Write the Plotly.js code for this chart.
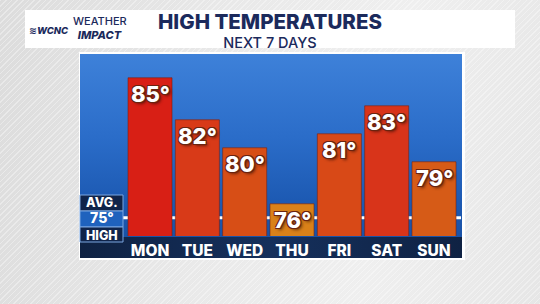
<!DOCTYPE html>
<html>
<head>
<meta charset="utf-8">
<script src="https://cdn.plot.ly/plotly-3.0.1.min.js"></script>
<style>
  html, body { margin:0; padding:0; width:540px; height:304px; overflow:hidden; }
  body {
    background:
      repeating-linear-gradient(135deg, rgba(255,255,255,0.35) 0 1px, rgba(255,255,255,0) 1px 4px),
      linear-gradient(100deg, #dcdcdc 0%, #e9e9e9 40%, #efefef 70%, #e6e6e6 100%);
    font-family: Inter, sans-serif;
  }
  .abs { position:absolute; }
  #header { left:25px; top:10px; width:490px; height:38px; background:#ffffff; }
  #frame { left:79px; top:52px; width:386px; height:208px; background:#ffffff; }
  #sky { left:80px; top:54px; width:382px; height:183px;
         background: linear-gradient(180deg, #3e81d9 0%, #2b6dc9 45%, #1d5ab3 80%, #1a52a6 100%); }
  #band { left:80px; top:237px; width:382px; height:21px;
          background: linear-gradient(90deg, #0f2243 0%, #15305c 50%, #0f2243 100%); }
  #chart { position:absolute; left:0; top:0; width:540px; height:304px; }
</style>
</head>
<body>
<div id="header" class="abs"></div>
<div id="frame" class="abs"></div>
<div id="sky" class="abs"></div>
<div id="band" class="abs"></div>
<div id="chart"></div>
<script>
// ---- data ----
const days = ["MON", "TUE", "WED", "THU", "FRI", "SAT", "SUN"];
const highs = [85, 82, 80, 76, 81, 83, 79];
const avgHigh = 75;
const barColors = ["#d81f15", "#d83a18", "#d74e16", "#d98119", "#d84917", "#d8341a", "#d65b17"];
const titleText = "HIGH TEMPERATURES";
const subtitleText = "NEXT 7 DAYS";

// ---- layout helpers (pixel -> paper) ----
const L = 80, R = 461, T = 53, B = 236;
const W = R - L, H = B - T;
const px = p => (p - L) / W;
const py = p => (B - p) / H;

const navy = "#1b2a5c";
const FAM = "Inter, 'DejaVu Sans', sans-serif";
const boldFont = (size, color) => ({family: FAM, size: size, color: color, weight: 800});

const trace = {
  type: "bar",
  x: days,
  y: highs,
  width: 0.93,
  marker: {color: barColors, line: {color: "rgba(120,30,10,0.55)", width: 1}},
  hoverinfo: "skip"
};

const annotations = [];
// value labels
days.forEach((d, i) => {
  annotations.push({
    x: d, y: highs[i], xref: "x", yref: "y",
    text: highs[i] + "°", showarrow: false,
    yanchor: "top", xanchor: "center", yshift: -1,
    font: Object.assign(boldFont(22, "#ffffff"), {
      shadow: "1px 1px 0 #6a2410, -1px -1px 0 #6a2410, 1px -1px 0 #6a2410, -1px 1px 0 #6a2410, 2px 2px 3px rgba(40,10,0,0.6)"
    })
  });
});
// header: title + subtitle in one block
annotations.push({xref: "paper", yref: "paper", x: px(270), y: py(30.5), showarrow: false,
  text: "<span style='font-size:20.5px;font-weight:800'>" + titleText + "</span><br>" + subtitleText,
  xanchor: "center", yanchor: "middle", align: "center", borderpad: 0,
  font: {family: FAM, size: 14.5, color: navy, weight: 500}});
// logo
annotations.push({xref: "paper", yref: "paper", x: px(28), y: py(30), text: "<i>≋WCNC</i>", showarrow: false,
  xanchor: "left", yanchor: "middle", borderpad: 0, font: boldFont(9.5, navy)});
annotations.push({xref: "paper", yref: "paper", x: px(72), y: py(28.5), showarrow: false,
  text: "<span style='font-size:11px'>WEATHER</span><br><span style='font-size:11px;font-weight:800'><i>\u00a0\u00a0IMPACT</i></span>",
  xanchor: "left", yanchor: "middle", align: "left", borderpad: 0,
  font: {family: FAM, size: 10.5, color: navy, weight: 500}});
// avg box texts in one block
annotations.push({xref: "paper", yref: "paper", x: px(101.5), y: py(218.5), showarrow: false,
  text: "AVG.<br><span style='font-size:14px'>" + avgHigh + "°</span><br>HIGH",
  xanchor: "center", yanchor: "middle", align: "center", borderpad: 0,
  font: boldFont(12.5, "#ffffff")});

const shapes = [
  // average line behind bars
  {type: "line", xref: "paper", yref: "y", x0: px(123), x1: 1, y0: avgHigh, y1: avgHigh,
   line: {color: "#ffffff", width: 3}, layer: "below"},
  // avg box
  {type: "rect", xref: "paper", yref: "paper", x0: px(80), x1: px(123), y0: py(211), y1: py(195),
   fillcolor: "#10244a", line: {color: "#7aa6e0", width: 1}, layer: "above"},
  {type: "rect", xref: "paper", yref: "paper", x0: px(80), x1: px(123), y0: py(227), y1: py(211),
   fillcolor: "#1f62bd", line: {color: "#7aa6e0", width: 1}, layer: "above"},
  {type: "rect", xref: "paper", yref: "paper", x0: px(80), x1: px(123), y0: py(242), y1: py(227),
   fillcolor: "#10244a", line: {color: "#7aa6e0", width: 1}, layer: "above"}
];

const layout = {
  width: 540, height: 304,
  margin: {l: L, r: 540 - R, t: T, b: 304 - B, pad: 0},
  paper_bgcolor: "rgba(0,0,0,0)",
  plot_bgcolor: "rgba(0,0,0,0)",
  showlegend: false,
  bargap: 0.07,
  xaxis: {
    range: [-1.479, 6.57], showgrid: false, zeroline: false, showline: false,
    ticks: "", tickfont: boldFont(15.5, "#ffffff"), ticklabelstandoff: 3, fixedrange: true
  },
  yaxis: {
    range: [73.7, 86.77], showgrid: false, zeroline: false, showline: false,
    showticklabels: false, ticks: "", fixedrange: true
  },
  annotations: annotations,
  shapes: shapes
};

Plotly.newPlot("chart", [trace], layout, {displayModeBar: false, staticPlot: true});
</script>
</body>
</html>
